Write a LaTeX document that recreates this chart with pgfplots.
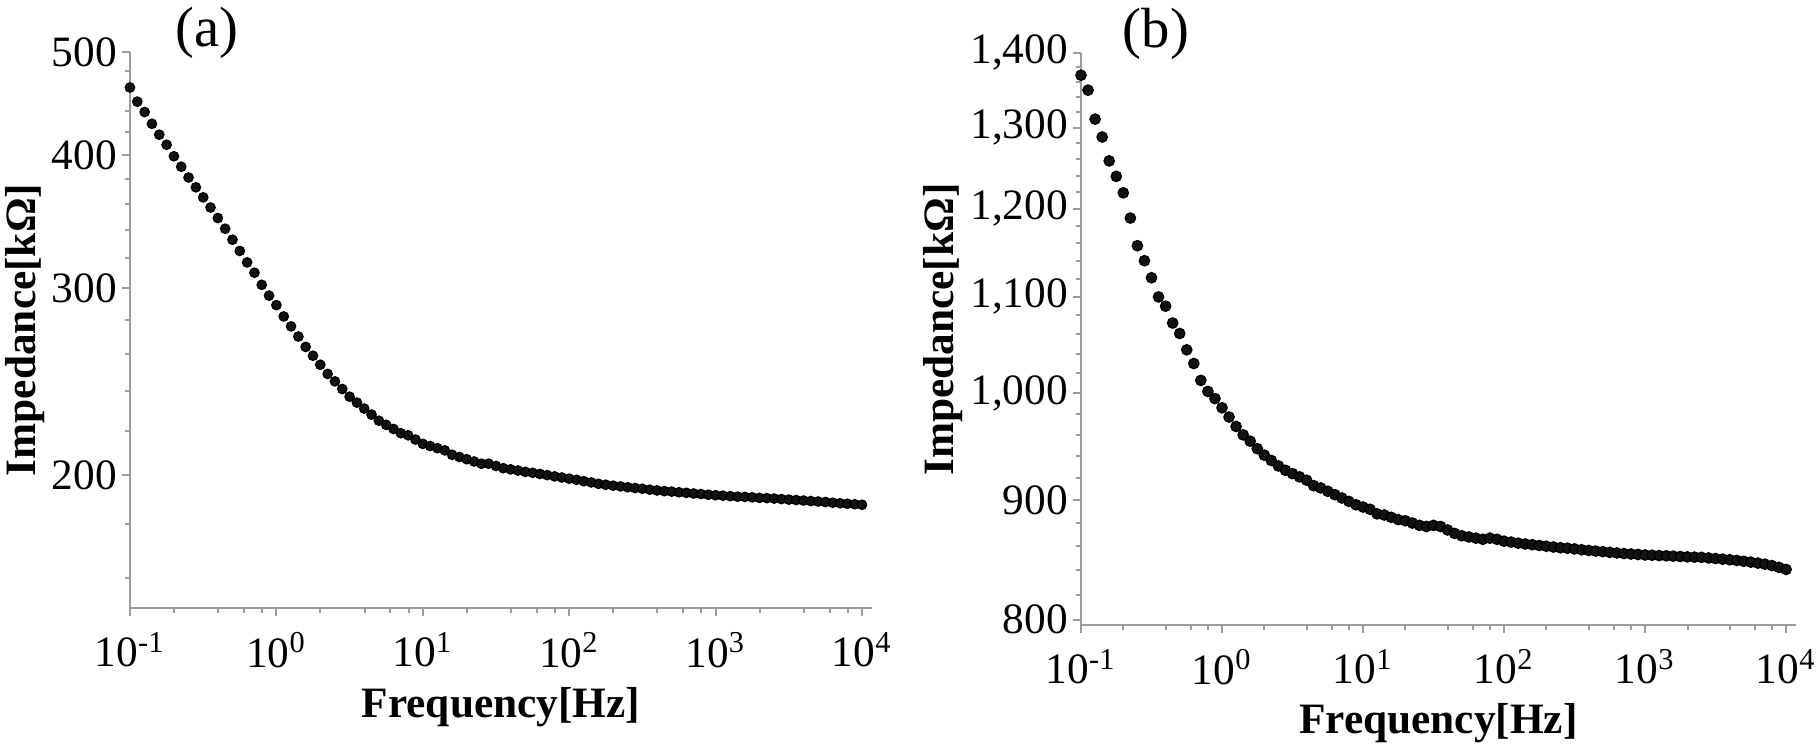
\documentclass[border=0pt]{standalone}
\usepackage{fontspec}
\setmainfont{Liberation Serif}
\usepackage{pgfplots}
\usepackage{pgfplotstable}
\pgfplotsset{compat=1.18}

\pgfplotstableread{
f Z
0.1 463
0.1122 449
0.1259 439
0.1413 428
0.1585 418
0.1778 409
0.1995 399
0.2239 390
0.2512 381
0.2818 373
0.3162 365
0.3548 357
0.3981 349
0.4467 341
0.5012 333
0.5623 325
0.6310 317
0.7079 310
0.7943 302
0.8913 295
1 289
1.122 282
1.259 276
1.413 270
1.585 264
1.778 259
1.995 254
2.239 249
2.512 245
2.818 241
3.162 237
3.548 234
3.981 231
4.467 228
5.012 225
5.623 223
6.310 221
7.079 219
7.943 218
8.913 216
10 214
11.22 213
12.59 212
14.13 211
15.85 209
17.78 208
19.95 207
22.39 206
25.12 205
28.18 205
31.62 204
35.48 203
39.81 202.5
44.67 202
50.12 201.4
56.23 201
63.10 200.5
70.79 200
79.43 199.5
89.13 199
100 198.5
112.2 198
125.9 197.4
141.3 196.9
158.5 196.3
177.8 195.9
199.5 195.5
223.9 195.2
251.2 194.8
281.8 194.5
316.2 194.2
354.8 193.8
398.1 193.5
446.7 193.2
501.2 193
562.3 192.7
631.0 192.5
707.9 192.2
794.3 192
891.3 191.7
1000 191.5
1122 191.3
1259 191.1
1413 190.9
1585 190.8
1778 190.6
1995 190.4
2239 190.3
2512 190.1
2818 189.9
3162 189.7
3548 189.5
3981 189.3
4467 189.1
5012 188.9
5623 188.7
6310 188.4
7079 188.2
7943 188
8913 187.8
10000 187.6
}\dataA

\pgfplotstableread{
f Z
0.1 1369
0.1122 1349
0.1259 1311
0.1413 1288
0.1585 1258
0.1778 1239
0.1995 1219
0.2239 1189
0.2512 1157
0.2818 1140
0.3162 1121
0.3548 1100
0.3981 1090
0.4467 1072
0.5012 1061
0.5623 1044
0.6310 1030
0.7079 1013
0.7943 1002
0.8913 995
1 986
1.122 977
1.259 968
1.413 960
1.585 954
1.778 947
1.995 941
2.239 936
2.512 931
2.818 927
3.162 924
3.548 921
3.981 918
4.467 913
5.012 911
5.623 908
6.310 905
7.079 902
7.943 899
8.913 896
10 894
11.22 892
12.59 888
14.13 887
15.85 885
17.78 883
19.95 882
22.39 880
25.12 878
28.18 877
31.62 878
35.48 877
39.81 874
44.67 871
50.12 869
56.23 868
63.10 867
70.79 866
79.43 867
89.13 866
100 864.4
112.2 863.6
125.9 862.7
141.3 862
158.5 861.4
177.8 860.7
199.5 860.1
223.9 859.4
251.2 858.8
281.8 858.4
316.2 857.8
354.8 857.1
398.1 856.5
446.7 856
501.2 855.5
562.3 854.9
631.0 854.4
707.9 853.9
794.3 853.5
891.3 853.1
1000 852.7
1122 852.5
1259 852.2
1413 852
1585 851.7
1778 851.4
1995 851.1
2239 850.9
2512 850.7
2818 850.2
3162 849.7
3548 849.2
3981 848.7
4467 848.1
5012 847.4
5623 846.7
6310 845.9
7079 845
7943 843.8
8913 842.3
10000 840.6
}\dataB

\definecolor{axgray}{RGB}{155,155,155}
\definecolor{dotc}{RGB}{18,18,18}

\begin{document}
\begin{tikzpicture}
\path[use as bounding box] (0,0) rectangle (546pt,224.4pt);

\begin{axis}[
  scale only axis,
  xmode=log, ymode=log,
  axis x line*=bottom, axis y line*=left,
  axis line style={axgray, line width=0.7pt, -},
  tick style={axgray, line width=0.6pt},
  tick align=outside,
  major tick length=2.4pt,
  minor tick length=1.6pt,
  xmin=0.1, xmax=11700,
  xtick={0.1,1,10,100,1000,10000},
  xticklabels={10\textsuperscript{-1},10\textsuperscript{0},10\textsuperscript{1},10\textsuperscript{2},10\textsuperscript{3},10\textsuperscript{4}},
  minor xtick={0.2,0.4,0.6,0.8,2,4,6,8,20,40,60,80,200,400,600,800,2000,4000,6000,8000},
  ticklabel style={font=\fontsize{13}{15}\selectfont, text=black},
  xticklabel style={yshift=-1.4pt},
  yticklabel style={xshift=2pt},
  xlabel={\textbf{Frequency[Hz]}},
  ylabel={\textbf{Impedance[kΩ]}},
  label style={font=\fontsize{13}{15}\selectfont},
  xlabel style={at={(axis description cs:0.5,0)}, anchor=north, yshift=-20.2pt},
  clip=false,
  at={(39pt,42pt)}, anchor=south west,
  width=222.6pt, height=166.8pt,
  ymin=150, ymax=500,
  ytick={200,300,400,500},
  yticklabels={200,300,400,500},
  minor ytick={160,180,220,240,260,280,320,340,360,380,420,440,460,480},
  ylabel style={at={(axis description cs:-0.1415,0.5)}, anchor=center},
]
\addplot[only marks, mark=*, mark size=1.4pt, mark options={fill=dotc, draw=none}] table[x=f, y=Z] {\dataA};
\end{axis}

\begin{axis}[
  scale only axis,
  xmode=log, ymode=log,
  axis x line*=bottom, axis y line*=left,
  axis line style={axgray, line width=0.7pt, -},
  tick style={axgray, line width=0.6pt},
  tick align=outside,
  major tick length=2.4pt,
  minor tick length=1.6pt,
  xmin=0.1, xmax=11700,
  xtick={0.1,1,10,100,1000,10000},
  xticklabels={10\textsuperscript{-1},10\textsuperscript{0},10\textsuperscript{1},10\textsuperscript{2},10\textsuperscript{3},10\textsuperscript{4}},
  minor xtick={0.2,0.4,0.6,0.8,2,4,6,8,20,40,60,80,200,400,600,800,2000,4000,6000,8000},
  ticklabel style={font=\fontsize{13}{15}\selectfont, text=black},
  xticklabel style={yshift=-1.4pt},
  yticklabel style={xshift=2pt},
  xlabel={\textbf{Frequency[Hz]}},
  ylabel={\textbf{Impedance[kΩ]}},
  label style={font=\fontsize{13}{15}\selectfont},
  xlabel style={at={(axis description cs:0.5,0)}, anchor=north, yshift=-19.9pt},
  clip=false,
  at={(324.3pt,36.9pt)}, anchor=south west,
  width=214.4pt, height=171.7pt,
  ymin=796, ymax=1400,
  ytick={800,900,1000,1100,1200,1300,1400},
  yticklabels={800,900,{1,000},{1,100},{1,200},{1,300},{1,400}},
  minor ytick={820,840,860,880,920,940,960,980,1020,1040,1060,1080,1120,1140,1160,1180,1220,1240,1260,1280,1320,1340,1360,1380},
  ylabel style={at={(axis description cs:-0.193,0.516)}, anchor=center},
]
\addplot[only marks, mark=*, mark size=1.55pt, mark options={fill=dotc, draw=none}] table[x=f, y=Z] {\dataB};
\end{axis}

\node[font=\fontsize{17}{19}\selectfont] at (62.1pt,214.5pt) {(a)};
\node[font=\fontsize{17}{19}\selectfont] at (346.8pt,214.3pt) {(b)};
\end{tikzpicture}
\end{document}
